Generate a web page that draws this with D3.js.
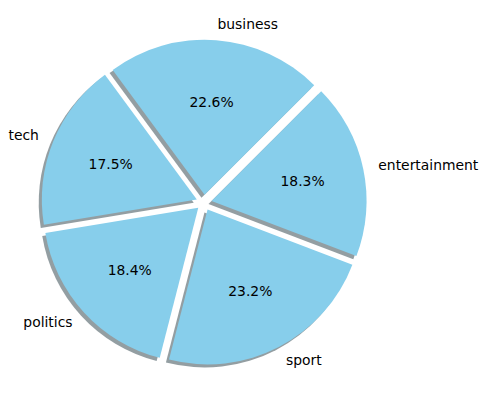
<!DOCTYPE html>
<html>
<head>
<meta charset="utf-8">
<script src="https://cdn.jsdelivr.net/npm/d3@7"></script>
<style>
  body { margin: 0; background: #fff; }
  svg text { font-family: "DejaVu Sans", sans-serif; font-size: 13.9px; fill: #000; }
</style>
</head>
<body>
<div id="chart"></div>
<script>
(function(){
  'use strict';

  // counter-clockwise order, starting at 45 degrees
  var categories = ['business', 'tech', 'politics', 'sport', 'entertainment'];
  var shares     = [22.6, 17.5, 18.4, 23.2, 18.3];

  var width = 487, height = 405;
  var cx = 204, cy = 202.5, r = 155;
  var explode = 0.05;
  var startDeg = 45;   // matplotlib style start angle

  var svg = d3.select('#chart').append('svg')
    .attr('width', width)
    .attr('height', height);

  var data = categories.map(function(c, i){ return {name: c, value: shares[i]}; });

  // d3 angle 0 is at 12 o'clock going clockwise, so run it backwards
  var a0 = (90 - startDeg) * Math.PI / 180;
  var pie = d3.pie()
    .sort(null)
    .value(function(d){ return d.value; })
    .startAngle(a0)
    .endAngle(a0 - 2 * Math.PI);

  var arcs = pie(data);
  var arc = d3.arc().innerRadius(0).outerRadius(r);

  function dir(d){
    var m = (d.startAngle + d.endAngle) / 2;
    return [Math.sin(m), -Math.cos(m)];
  }

  var g = svg.append('g').attr('transform', 'translate(' + cx + ',' + cy + ')');

  // shadows first
  g.selectAll('.shadow')
    .data(arcs)
    .enter().append('path')
    .attr('class', 'shadow')
    .attr('transform', function(d){
      var v = dir(d);
      return 'translate(' + (v[0] * explode * r - 0.02 * r) + ',' + (v[1] * explode * r + 0.02 * r) + ')';
    })
    .attr('d', arc)
    .attr('fill', 'rgb(40,62,70)')
    .attr('fill-opacity', 0.5);

  g.selectAll('.wedge')
    .data(arcs)
    .enter().append('path')
    .attr('class', 'wedge')
    .attr('transform', function(d){
      var v = dir(d);
      return 'translate(' + (v[0] * explode * r) + ',' + (v[1] * explode * r) + ')';
    })
    .attr('d', arc)
    .attr('fill', 'skyblue');

  // category labels
  g.selectAll('.label')
    .data(arcs)
    .enter().append('text')
    .attr('class', 'label')
    .attr('x', function(d){ return dir(d)[0] * (1.1 + explode) * r; })
    .attr('y', function(d){ return dir(d)[1] * (1.1 + explode) * r - 0.5; })
    .attr('text-anchor', function(d){ return dir(d)[0] > 0 ? 'start' : 'end'; })
    .attr('dominant-baseline', 'central')
    .text(function(d){ return d.data.name; });

  // percentages
  g.selectAll('.pct')
    .data(arcs)
    .enter().append('text')
    .attr('class', 'pct')
    .attr('x', function(d){ return dir(d)[0] * (0.6 + explode) * r; })
    .attr('y', function(d){ return dir(d)[1] * (0.6 + explode) * r - 0.5; })
    .attr('text-anchor', 'middle')
    .attr('dominant-baseline', 'central')
    .text(function(d){ return d.data.value.toFixed(1) + '%'; });
})();
</script>
</body>
</html>
